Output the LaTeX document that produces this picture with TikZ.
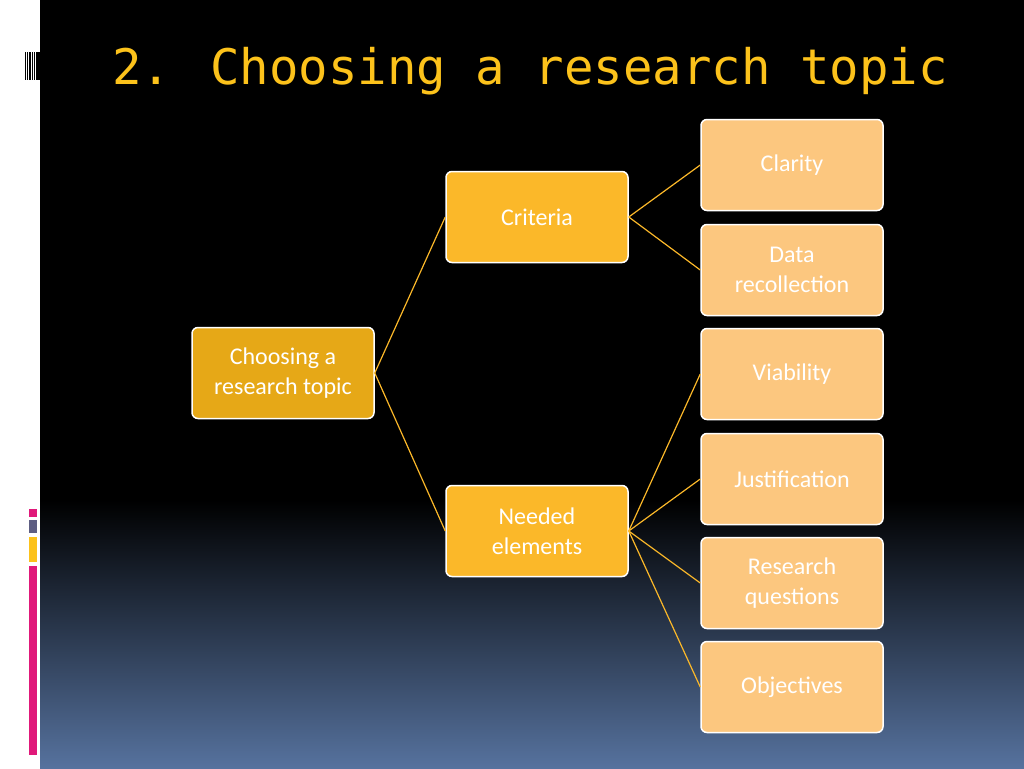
\documentclass[tikz,border=0pt]{standalone}
\usepackage{fontspec}
\setmainfont{Carlito}
\newfontfamily\titlefont{DejaVu Sans Mono}
\begin{document}
\begin{tikzpicture}[x=1pt,y=-1pt,
  box/.style={draw=white,line width=1.5pt,rounded corners=6pt,minimum width=182pt,minimum height=91pt,text=white,align=center,font=\fontsize{24}{30}\selectfont,inner sep=2pt},
  root/.style={box,fill=rootc},
  mid/.style={box,fill=midc},
  leaf/.style={box,fill=leafc},
  link/.style={draw=linkc,line width=1.2pt}]
\definecolor{rootc}{HTML}{E6A817}
\definecolor{midc}{HTML}{FBB829}
\definecolor{leafc}{HTML}{FCC77F}
\definecolor{linkc}{HTML}{FBB829}
\definecolor{bluebot}{HTML}{56729E}
\definecolor{titlec}{HTML}{FCC21B}
\useasboundingbox (0,0) rectangle (1024,768);
\fill[white] (0,0) rectangle (40,768);
\fill[black] (40,0) rectangle (1024,500);
\shade[top color=black,bottom color=bluebot] (40,500) rectangle (1024,768);
\foreach \a/\b in {25/26,27/28,29/31,32/33,34/35,36/40}{\fill[black] (\a,52) rectangle (\b,80);}
\definecolor{pinkc}{HTML}{E0197A}
\fill[pinkc] (29,509) rectangle (37,517);
\fill[gray!70!blue!60!black!80] (29,520) rectangle (37,533);
\fill[titlec] (29,537) rectangle (37,562);
\fill[pinkc] (29,566) rectangle (37,755);
\node[anchor=base west,text=titlec,font=\titlefont\fontsize{49}{55}\selectfont,inner sep=0] (title) at (112,84) {2. Choosing a research topic};
\node[root] (r) at (283,373) {Choosing a\\research topic};
\node[mid] (c) at (537,217) {Criteria};
\node[mid] (n) at (537,531) {Needed\\elements};
\node[leaf] (l1) at (792,165) {Clarity};
\node[leaf] (l2) at (792,270) {Data\\recollection};
\node[leaf] (l3) at (792,374) {Viability};
\node[leaf] (l4) at (792,479) {Justification};
\node[leaf] (l5) at (792,583) {Research\\questions};
\node[leaf] (l6) at (792,687) {Objectives};
\foreach \p/\q in {r/c,r/n,c/l1,c/l2,n/l3,n/l4,n/l5,n/l6}{\draw[link] (\p.east) -- (\q.west);}
\end{tikzpicture}
\end{document}
